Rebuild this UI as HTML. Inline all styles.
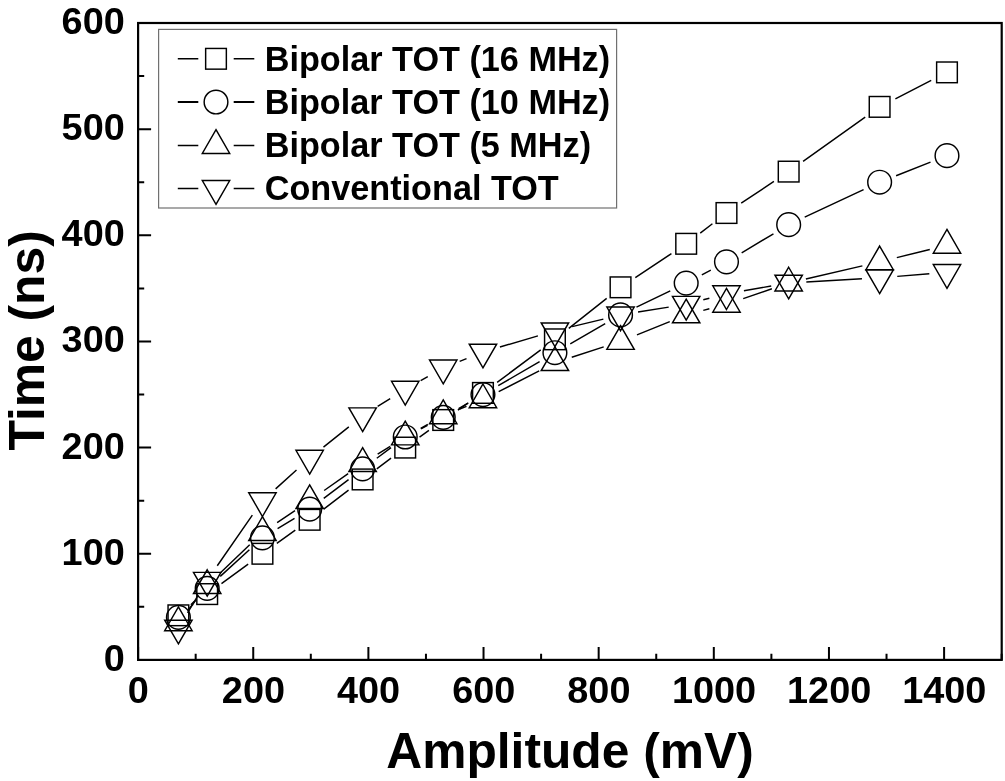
<!DOCTYPE html>
<html lang="en"><head><meta charset="utf-8"><title>Time vs Amplitude</title>
<style>
html,body{margin:0;padding:0;background:#fff;}
body{width:1005px;height:781px;overflow:hidden;}
svg{display:block;}
text{font-family:"Liberation Sans",sans-serif;font-weight:bold;fill:#000;}
.tick{font-size:36.6px;}
.leg{font-size:35.4px;}
.title{font-size:50.7px;}
</style></head><body>
<svg width="1005" height="781" viewBox="0 0 1005 781">
<rect x="0" y="0" width="1005" height="781" fill="#fff"/>
<rect x="138.1" y="23" width="863.6" height="636.9" fill="none" stroke="#000" stroke-width="2.2"/>
<path d="M138.1 659.9V646.9M195.67 659.9V653.8M253.24 659.9V646.9M310.81 659.9V653.8M368.39 659.9V646.9M425.96 659.9V653.8M483.53 659.9V646.9M541.1 659.9V653.8M598.67 659.9V646.9M656.24 659.9V653.8M713.81 659.9V646.9M771.39 659.9V653.8M828.96 659.9V646.9M886.53 659.9V653.8M944.1 659.9V646.9M1001.67 659.9V653.8M138.1 659.9H151.1M138.1 606.82H144.2M138.1 553.75H151.1M138.1 500.67H144.2M138.1 447.6H151.1M138.1 394.52H144.2M138.1 341.45H151.1M138.1 288.38H144.2M138.1 235.3H151.1M138.1 182.23H144.2M138.1 129.15H151.1M138.1 76.08H144.2M138.1 23H151.1" fill="none" stroke="#000" stroke-width="2"/>
<text class="tick" transform="translate(138.3 702.9) scale(1.035 1)" text-anchor="middle">0</text>
<text class="tick" transform="translate(253.44 702.9) scale(1.035 1)" text-anchor="middle">200</text>
<text class="tick" transform="translate(368.59 702.9) scale(1.035 1)" text-anchor="middle">400</text>
<text class="tick" transform="translate(483.73 702.9) scale(1.035 1)" text-anchor="middle">600</text>
<text class="tick" transform="translate(598.87 702.9) scale(1.035 1)" text-anchor="middle">800</text>
<text class="tick" transform="translate(714.01 702.9) scale(1.035 1)" text-anchor="middle">1000</text>
<text class="tick" transform="translate(829.16 702.9) scale(1.035 1)" text-anchor="middle">1200</text>
<text class="tick" transform="translate(944.3 702.9) scale(1.035 1)" text-anchor="middle">1400</text>
<text class="tick" transform="translate(124.8 670.8) scale(1.035 1)" text-anchor="end">0</text>
<text class="tick" transform="translate(124.8 564.65) scale(1.035 1)" text-anchor="end">100</text>
<text class="tick" transform="translate(124.8 458.5) scale(1.035 1)" text-anchor="end">200</text>
<text class="tick" transform="translate(124.8 352.35) scale(1.035 1)" text-anchor="end">300</text>
<text class="tick" transform="translate(124.8 246.2) scale(1.035 1)" text-anchor="end">400</text>
<text class="tick" transform="translate(124.8 140.05) scale(1.035 1)" text-anchor="end">500</text>
<text class="tick" transform="translate(124.8 33.9) scale(1.035 1)" text-anchor="end">600</text>
<text class="title" transform="translate(570.0 767.6) scale(0.981 1)" text-anchor="middle">Amplitude (mV)</text>
<text class="title" transform="translate(44.3 340.4) rotate(-90) scale(0.982 1)" text-anchor="middle">Time (ns)</text>
<g fill="none" stroke="#000" stroke-width="1.45" stroke-linejoin="miter">
<path d="M192.64 604.81L192.94 604.59M221.48 583.65L248.16 564.18M276.82 543.41L295.3 530.12M323.74 509.06L348.55 490.17M376.81 468.85L391.05 458.2M419.55 437.2L428.91 430.4M457.86 410.03L468.33 402.9M497.15 382.36L540.72 349.9M568.79 328.33L606.68 298.31M635.3 277.53L671.43 253.57M700.25 233.05L712.41 223.75M741.21 203.2L773.92 181.42M803.08 161.35L865.2 117.12M895.37 98.79L931.22 80.43"/>
<rect x="168.05" y="604.97" width="20.7" height="20.7"/>
<rect x="196.84" y="583.74" width="20.7" height="20.7"/>
<rect x="252.1" y="543.4" width="20.7" height="20.7"/>
<rect x="299.31" y="509.43" width="20.7" height="20.7"/>
<rect x="352.28" y="469.09" width="20.7" height="20.7"/>
<rect x="394.88" y="437.25" width="20.7" height="20.7"/>
<rect x="432.88" y="409.65" width="20.7" height="20.7"/>
<rect x="472.6" y="382.58" width="20.7" height="20.7"/>
<rect x="544.57" y="328.98" width="20.7" height="20.7"/>
<rect x="610.2" y="276.96" width="20.7" height="20.7"/>
<rect x="675.83" y="233.44" width="20.7" height="20.7"/>
<rect x="716.13" y="202.66" width="20.7" height="20.7"/>
<rect x="778.31" y="161.26" width="20.7" height="20.7"/>
<rect x="869.27" y="96.51" width="20.7" height="20.7"/>
<rect x="936.63" y="62.01" width="20.7" height="20.7"/>
<path d="M190.85 604.86L194.73 600.94M220.25 576.41L249.39 549.77M277.58 528.64L294.53 518.35M323.74 498.44L348.55 479.55M376.81 458.23L391.05 447.58M420.96 428.86L427.5 425.47M458.58 408.53L467.61 403.34M498.26 385.63L539.61 361.6M570.26 343.87L605.21 323.74M636.47 307.19L670.26 290.79M701.84 274.82L710.82 270.09M741.67 252.76L773.46 233.76M804.7 217.2L863.58 189.71M896.09 175.74L930.51 162.18"/>
<circle cx="178.4" cy="617.44" r="11.85"/>
<circle cx="207.19" cy="588.35" r="11.85"/>
<circle cx="262.45" cy="537.83" r="11.85"/>
<circle cx="309.66" cy="509.17" r="11.85"/>
<circle cx="362.63" cy="468.83" r="11.85"/>
<circle cx="405.23" cy="436.99" r="11.85"/>
<circle cx="443.23" cy="417.35" r="11.85"/>
<circle cx="482.95" cy="394.52" r="11.85"/>
<circle cx="554.92" cy="352.7" r="11.85"/>
<circle cx="620.55" cy="314.91" r="11.85"/>
<circle cx="686.18" cy="283.07" r="11.85"/>
<circle cx="726.48" cy="261.84" r="11.85"/>
<circle cx="788.66" cy="224.69" r="11.85"/>
<circle cx="879.62" cy="182.23" r="11.85"/>
<circle cx="946.98" cy="155.69" r="11.85"/>
<path d="M189.24 608.76L196.34 599.59M219.95 573.34L249.69 544.78M277.13 522.62L294.99 510.57M324.15 490.51L348.14 473.69M377.65 454.16L390.21 446.34M420.68 428.35L427.78 424.39M459.66 409.17L466.52 406.42M498.68 391.71L539.19 370.8M571.76 357.23L603.71 346.9M636.96 334.82L669.77 321.55M703.3 310.4L709.36 308.81M743.23 298.58L771.91 288.79M805.89 279.04L862.38 265.86M896.81 257.61L929.79 249.5"/>
<polygon points="178.4,606.93 192.1,630.66 164.7,630.66"/>
<polygon points="207.19,569.78 220.89,593.5 193.49,593.5"/>
<polygon points="262.45,516.7 276.15,540.43 248.75,540.43"/>
<polygon points="309.66,484.86 323.36,508.58 295.96,508.58"/>
<polygon points="362.63,447.7 376.33,471.43 348.93,471.43"/>
<polygon points="405.23,421.17 418.93,444.89 391.53,444.89"/>
<polygon points="443.23,399.94 456.93,423.66 429.53,423.66"/>
<polygon points="482.95,384.01 496.65,407.74 469.25,407.74"/>
<polygon points="554.92,346.86 568.62,370.59 541.22,370.59"/>
<polygon points="620.55,325.63 634.25,349.36 606.85,349.36"/>
<polygon points="686.18,299.09 699.88,322.82 672.48,322.82"/>
<polygon points="726.48,288.48 740.18,312.21 712.78,312.21"/>
<polygon points="788.66,267.25 802.36,290.98 774.96,290.98"/>
<polygon points="879.62,246.02 893.32,269.75 865.92,269.75"/>
<polygon points="946.98,229.46 960.68,253.19 933.28,253.19"/>
<path d="M187.54 612.89L198.05 595.45M217.28 565.75L252.36 515.21M275.61 488.84L296.5 470.05M323.47 447.14L348.82 426.83M377.65 406.4L390.21 398.58M420.68 380.58L427.78 376.62M459.66 361.4L466.52 358.65M499.93 347.06L537.94 335.84M572.12 326.66L603.35 319.09M638.02 312.09L668.71 307.12M703.3 299.79L709.36 298.19M743.93 290.7L771.21 286.05M806.33 282.04L861.95 278.79M897.27 276.37L929.33 273.84"/>
<polygon points="178.4,643.87 192.1,620.15 164.7,620.15"/>
<polygon points="207.19,596.11 220.89,572.38 193.49,572.38"/>
<polygon points="262.45,516.49 276.15,492.77 248.75,492.77"/>
<polygon points="309.66,474.03 323.36,450.31 295.96,450.31"/>
<polygon points="362.63,431.57 376.33,407.85 348.93,407.85"/>
<polygon points="405.23,405.04 418.93,381.31 391.53,381.31"/>
<polygon points="443.23,383.81 456.93,360.08 429.53,360.08"/>
<polygon points="482.95,367.88 496.65,344.16 469.25,344.16"/>
<polygon points="554.92,346.65 568.62,322.93 541.22,322.93"/>
<polygon points="620.55,330.73 634.25,307 606.85,307"/>
<polygon points="686.18,320.12 699.88,296.39 672.48,296.39"/>
<polygon points="726.48,309.5 740.18,285.77 712.78,285.77"/>
<polygon points="788.66,298.89 802.36,275.16 774.96,275.16"/>
<polygon points="879.62,293.58 893.32,269.85 865.92,269.85"/>
<polygon points="946.98,288.27 960.68,264.54 933.28,264.54"/>
</g>
<rect x="158.6" y="29.4" width="458" height="178.6" fill="#fff" stroke="#707070" stroke-width="1.2"/>
<g fill="none" stroke="#000" stroke-width="1.45">
<path stroke-width="1.5" d="M177.8 58.8H198.3M233.7 58.8H254.3"/>
<rect x="205.65" y="48.45" width="20.7" height="20.7"/>
<path stroke-width="1.9" d="M177.8 102H198.3M233.7 102H254.3"/>
<circle cx="216" cy="102" r="11.85"/>
<path stroke-width="1.6" d="M177.8 145.5H198.3M233.7 145.5H254.3"/>
<polygon points="216,129.68 229.7,153.41 202.3,153.41"/>
<path stroke-width="1.45" d="M177.8 188.5H198.3M233.7 188.5H254.3"/>
<polygon points="216,204.32 229.7,180.59 202.3,180.59"/>
</g>
<text class="leg" transform="translate(264.7 71.1) scale(0.967 1)">Bipolar TOT (16 MHz)</text>
<text class="leg" transform="translate(264.7 114) scale(0.967 1)">Bipolar TOT (10 MHz)</text>
<text class="leg" transform="translate(264.7 156.8) scale(0.967 1)">Bipolar TOT (5 MHz)</text>
<text class="leg" transform="translate(264.7 199.5) scale(0.967 1)">Conventional TOT</text>
</svg></body></html>
